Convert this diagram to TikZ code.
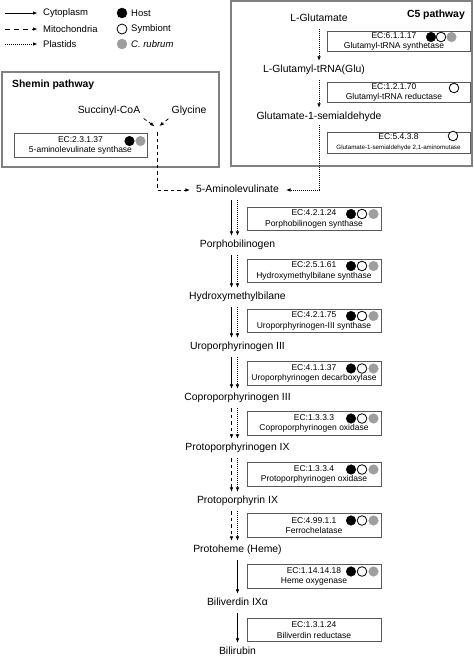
\documentclass[tikz,border=0pt]{standalone}
\usepackage{fontspec}
\setmainfont{Liberation Sans}
\usetikzlibrary{arrows.meta}
\definecolor{boxgray}{gray}{0.5}
\definecolor{rubrum}{gray}{0.62}

\begin{document}
\begin{tikzpicture}[x=1pt,y=-1pt,
	met/.style={inner sep=0pt,text height=7.5pt,text depth=2.5pt,font=\fontsize{10.4}{12}\selectfont},
	leg/.style={inner sep=0pt,anchor=west,font=\fontsize{9.5}{11}\selectfont},
	ptitle/.style={inner sep=0pt,font=\fontsize{10.4}{12}\selectfont\bfseries},
	enz/.style={draw=black!65,line width=0.7pt,inner sep=0pt,minimum width=134pt,minimum height=23.5pt,align=center,font=\fontsize{8.5}{10.8}\selectfont},
	enzc/.style={enz,minimum width=143pt,minimum height=20pt,font=\fontsize{8.5}{10}\selectfont},
	pathbox/.style={draw=boxgray,line width=1.1pt},
	cyto/.style={-{Latex[length=4.5pt,width=3.6pt]},line width=0.8pt},
	mito/.style={cyto,dash pattern=on 3.5pt off 3pt},
	plast/.style={cyto,dash pattern=on 1pt off 1pt},
	gap/.style={shorten <=5pt,shorten >=4pt}]
	\useasboundingbox (0,0) rectangle (474,657);

	\coordinate (lc) at (5,13);
	\coordinate (lm) at (5,29);
	\coordinate (lp) at (5,44);
	\node[leg] (lcyto) at (43,13) {Cytoplasm};
	\node[leg] (lmito) at (43,29) {Mitochondria};
	\node[leg] (lplast) at (43,44) {Plastids};
	\draw[cyto,shorten >=5.5pt] (lc) -- (lcyto);
	\draw[mito,dash pattern=on 4.5pt off 4.5pt,shorten >=5.5pt] (lm) -- (lmito);
	\draw[plast,shorten >=5.5pt] (lp) -- (lplast);
	\filldraw[black] (122,13) circle (5pt);
	\filldraw[draw=black,fill=white,line width=0.8pt] (122,29) circle (5pt);
	\filldraw[rubrum] (122,44) circle (5pt);
	\node[leg] (lhost) at (131,13) {Host};
	\node[leg] (lsym) at (131,29) {Symbiont};
	\node[leg] (lrub) at (131,44) {\itshape C. rubrum};

	\draw[pathbox] (2,72) rectangle (219,167);
	\draw[pathbox] (231,1) rectangle (472,166);
	\node[ptitle,anchor=west] (shemin) at (12,85) {Shemin pathway};
	\node[ptitle,anchor=east] (cfive) at (465,15) {C5 pathway};

	\node[met] (succ) at (109,111) {Succinyl-CoA};
	\node[met] (gly) at (189,111) {Glycine};
	\coordinate (ys) at (157,128);
	\node[enz,minimum width=133pt,minimum height=24.5pt,font=\fontsize{8.5}{10}\selectfont] (e23) at (80.5,145.5) {EC:2.3.1.37\\5-aminolevulinate synthase};
	\filldraw[black] (129.5,141) circle (4.8pt);
	\filldraw[rubrum] (140.5,141) circle (4.8pt);

	\node[met] (glu) at (319,19) {L-Glutamate};
	\node[met] (gtrna) at (314,70) {L-Glutamyl-tRNA(Glu)};
	\node[met] (gsa) at (319,117) {Glutamate-1-semialdehyde};
	\node[enzc] (e61) at (398.5,41) {EC:6.1.1.17\hspace*{9pt}\\Glutamyl-tRNA synthetase\hspace*{9pt}};
	\node[enzc] (e12) at (398.5,92) {EC:1.2.1.70\hspace*{9pt}\\Glutamyl-tRNA reductase\hspace*{9pt}};
	\node[enzc,minimum height=21pt] (e54) at (398.5,142.5) {EC:5.4.3.8\\{\fontsize{6.2}{7}\selectfont Glutamate-1-semialdehyde 2,1-aminomutase}};
	\filldraw[black] (431,37) circle (4.8pt);
	\filldraw[draw=black,fill=white,line width=0.8pt] (441,37) circle (4.8pt);
	\filldraw[rubrum] (451.5,37) circle (4.8pt);
	\filldraw[draw=black,fill=white,line width=0.8pt] (454,88) circle (4.8pt);
	\filldraw[draw=black,fill=white,line width=0.8pt] (453,136) circle (4.8pt);

	\node[met] (ala) at (237.5,190) {5-Aminolevulinate};
	\node[met] (pbg) at (237.5,245) {Porphobilinogen};
	\node[met] (hmb) at (237.5,297) {Hydroxymethylbilane};
	\node[met] (uro) at (237.5,347) {Uroporphyrinogen III};
	\node[met] (copro) at (237.5,398) {Coproporphyrinogen III};
	\node[met] (protogen) at (237.5,448) {Protoporphyrinogen IX};
	\node[met] (proto) at (237.5,501) {Protoporphyrin IX};
	\node[met] (heme) at (237.5,550) {Protoheme (Heme)};
	\node[met] (bv) at (237.5,603) {Biliverdin IXα};
	\node[met] (br) at (237.5,652) {Bilirubin};

	\draw[mito,shorten >=3pt,shorten <=4pt] (succ.south east) -- (ys);
	\draw[mito,shorten >=3pt,shorten <=4pt] (gly.south west) -- (ys);
	\draw[mito,shorten <=4pt,shorten >=6pt] (ys) |- (ala.west);
	\draw[plast,gap] (glu.south) -- (glu.south |- gtrna.north);
	\draw[plast,gap] (glu.south |- gtrna.south) -- (gsa.north);
	\draw[plast,shorten <=3pt,shorten >=7pt] (gsa.south) |- (ala.east);

	\node[enz] (e24) at (314,219) {EC:4.2.1.24\\Porphobilinogen synthase};
	\node[enz] (e61b) at (314,271) {EC:2.5.1.61\\Hydroxymethylbilane synthase};
	\node[enz] (e75) at (314,321) {EC:4.2.1.75\\Uroporphyrinogen-III synthase};
	\node[enz] (e37) at (314,373.5) {EC:4.1.1.37\\Uroporphyrinogen decarboxylase};
	\node[enz] (e33) at (314,423.5) {EC:1.3.3.3\\Coproporphyrinogen oxidase};
	\node[enz] (e34) at (314,474.5) {EC:1.3.3.4\\Protoporphyrinogen oxidase};
	\node[enz] (e99) at (314,525.5) {EC:4.99.1.1\\Ferrochelatase};
	\node[enz] (e18) at (314,576.5) {EC:1.14.14.18\\Heme oxygenase};
	\node[enz] (e124) at (314,630) {EC:1.3.1.24\\Biliverdin reductase};

	\filldraw[black] (351,214) circle (4.8pt);
	\filldraw[draw=black,fill=white,line width=0.8pt] (362,214) circle (4.8pt);
	\filldraw[rubrum] (373.5,214) circle (4.8pt);
	\filldraw[black] (351,266) circle (4.8pt);
	\filldraw[draw=black,fill=white,line width=0.8pt] (362,266) circle (4.8pt);
	\filldraw[rubrum] (373.5,266) circle (4.8pt);
	\filldraw[black] (351,316) circle (4.8pt);
	\filldraw[draw=black,fill=white,line width=0.8pt] (362,316) circle (4.8pt);
	\filldraw[rubrum] (373.5,316) circle (4.8pt);
	\filldraw[black] (351,368.5) circle (4.8pt);
	\filldraw[draw=black,fill=white,line width=0.8pt] (362,368.5) circle (4.8pt);
	\filldraw[rubrum] (373.5,368.5) circle (4.8pt);
	\filldraw[black] (351,418.5) circle (4.8pt);
	\filldraw[draw=black,fill=white,line width=0.8pt] (362,418.5) circle (4.8pt);
	\filldraw[rubrum] (373.5,418.5) circle (4.8pt);
	\filldraw[black] (351,469.5) circle (4.8pt);
	\filldraw[draw=black,fill=white,line width=0.8pt] (362,469.5) circle (4.8pt);
	\filldraw[rubrum] (373.5,469.5) circle (4.8pt);
	\filldraw[black] (351,520.5) circle (4.8pt);
	\filldraw[draw=black,fill=white,line width=0.8pt] (362,520.5) circle (4.8pt);
	\filldraw[rubrum] (373.5,520.5) circle (4.8pt);
	\filldraw[black] (351,571.5) circle (4.8pt);
	\filldraw[draw=black,fill=white,line width=0.8pt] (362,571.5) circle (4.8pt);
	\filldraw[rubrum] (373.5,571.5) circle (4.8pt);

	\draw[cyto,gap] ([xshift=-6pt]ala.south) -- ([xshift=-6pt]pbg.north);
	\draw[plast,gap] (ala.south) -- (pbg.north);
	\draw[cyto,gap] ([xshift=-6pt]pbg.south) -- ([xshift=-6pt]hmb.north);
	\draw[plast,gap] (pbg.south) -- (hmb.north);
	\draw[cyto,gap] ([xshift=-6pt]hmb.south) -- ([xshift=-6pt]uro.north);
	\draw[plast,gap] (hmb.south) -- (uro.north);
	\draw[cyto,gap] ([xshift=-6pt]uro.south) -- ([xshift=-6pt]copro.north);
	\draw[plast,gap] (uro.south) -- (copro.north);
	\draw[mito,gap] ([xshift=-6pt]copro.south) -- ([xshift=-6pt]protogen.north);
	\draw[plast,gap] (copro.south) -- (protogen.north);
	\draw[mito,gap] ([xshift=-6pt]protogen.south) -- ([xshift=-6pt]proto.north);
	\draw[plast,gap] (protogen.south) -- (proto.north);
	\draw[mito,gap] ([xshift=-6pt]proto.south) -- ([xshift=-6pt]heme.north);
	\draw[plast,gap] (proto.south) -- (heme.north);
	\draw[cyto,gap] (heme.south) -- (bv.north);
	\draw[cyto,gap] (bv.south) -- (br.north);
\end{tikzpicture}
\end{document}
